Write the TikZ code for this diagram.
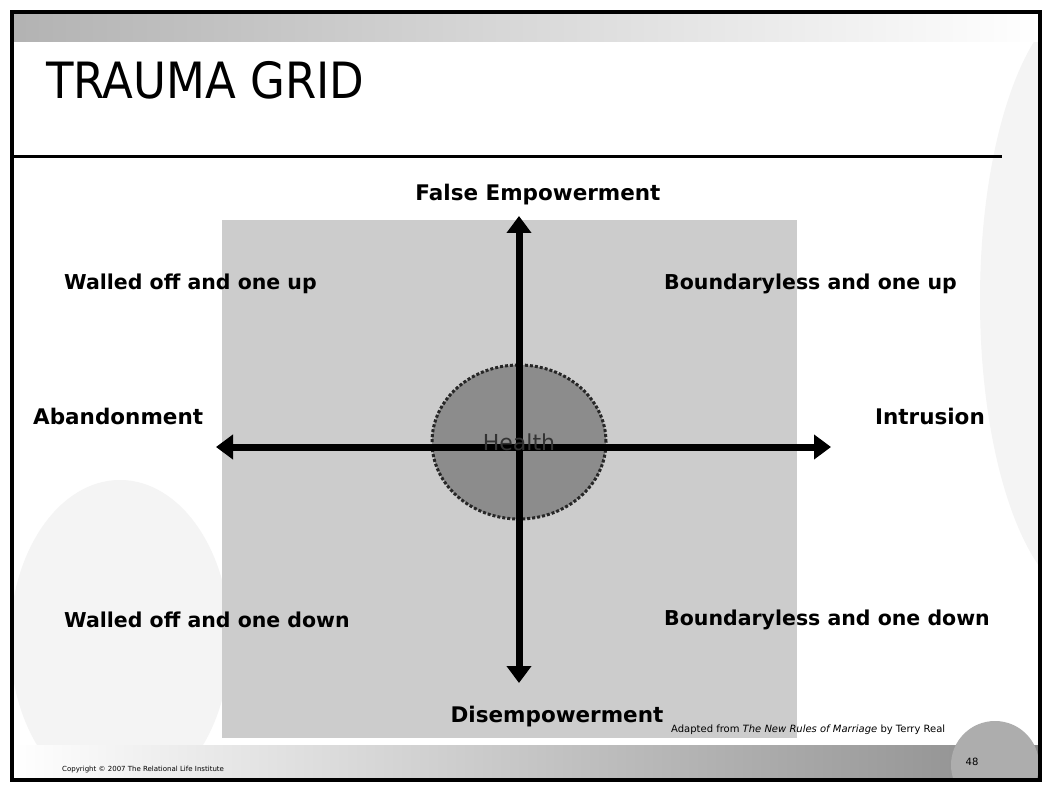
\documentclass[tikz,border=0pt]{standalone}
\usepackage{fontspec}
\setmainfont{DejaVu Sans}
\newfontfamily\condfont{DejaVu Sans Condensed}
\usetikzlibrary{arrows.meta,shapes.geometric}
\definecolor{boxgray}{HTML}{CCCCCC}
\definecolor{deco}{HTML}{F4F4F4}
\tikzset{
  lab/.style={font=\fontsize{20.5}{24}\selectfont\bfseries, inner sep=0pt},
  biglab/.style={font=\fontsize{21.5}{26}\selectfont\bfseries, inner sep=0pt},
  axis/.style={line width=7pt, -{Triangle[length=17pt,width=24pt]}},
}
\begin{document}
\begin{tikzpicture}[x=1pt,y=-1pt]
\useasboundingbox (0,0) rectangle (1052,791);
\fill[white] (0,0) rectangle (1052,791);
% decorative background
\begin{scope}
\clip (12,12) rectangle (1040,780);
\fill[deco] (1090,300) ellipse (110 and 300);
\fill[deco] (120,640) ellipse (110 and 160);
\end{scope}
\shade[left color=black!30, right color=white] (12,12) rectangle (1040,42);
\shade[left color=white, right color=black!45] (12,745) rectangle (1040,780);
\begin{scope}
\clip (12,12) rectangle (1040,780);
\fill[black!32] (995,765) circle (44);
\end{scope}
\draw[line width=4pt] (12,12) rectangle (1040,780);
\draw[line width=3pt] (12,157) -- (1002,157);
\node[anchor=west, font=\condfont\fontsize{50}{54}\selectfont, inner sep=0pt] (title) at (46,80) {TRAUMA GRID};
% grid
\fill[boxgray] (222,220) rectangle (797,738);
\node[ellipse, minimum width=174pt, minimum height=154pt, fill=black!45, draw=black!85, dotted, line width=3pt] (health) at (519,442) {};
\coordinate (top) at (519,216);
\coordinate (bot) at (519,683);
\coordinate (lft) at (216,447);
\coordinate (rgt) at (831,447);
\coordinate (c) at (519,447);
\draw[axis] (c) -- (top);
\draw[axis] (c) -- (bot);
\draw[axis] (c) -- (lft);
\draw[axis] (c) -- (rgt);
\node[font=\fontsize{22}{26}\selectfont, text=black!80, inner sep=0pt] (hl) at (519,442) {Health};
\node[biglab] (fe) at (538,195) {False Empowerment};
\node[biglab] (de) at (557,717) {Disempowerment};
\node[biglab, anchor=west] (ab) at (33,416) {Abandonment};
\node[biglab, anchor=east] (in) at (985,416) {Intrusion};
\node[lab, anchor=west] (q1) at (64,284) {Walled off and one up};
\node[lab, anchor=west] (q2) at (664,284) {Boundaryless and one up};
\node[lab, anchor=west] (q3) at (64,620) {Walled off and one down};
\node[lab, anchor=west] (q4) at (664,620) {Boundaryless and one down};
\node[anchor=west, inner sep=0pt, font=\fontsize{10}{12}\selectfont] (ad) at (671,730) {Adapted from \textit{The New Rules of Marriage} by Terry Real};
\node[inner sep=0pt, font=\fontsize{10}{12}\selectfont] (pg) at (972,762) {48};
\node[anchor=west, inner sep=0pt, font=\fontsize{7}{9}\selectfont] (cp) at (62,770) {Copyright © 2007 The Relational Life Institute};
\end{tikzpicture}
\end{document}
